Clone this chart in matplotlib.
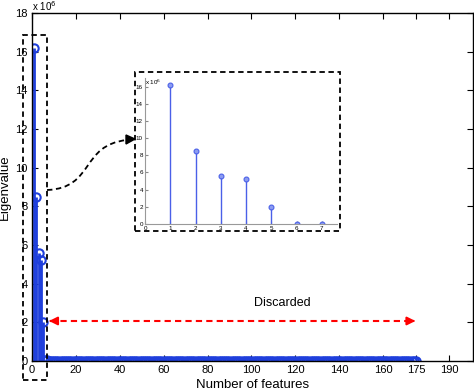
import matplotlib
matplotlib.use("Agg")
import matplotlib.pyplot as plt
from matplotlib.patches import Rectangle, Polygon
from matplotlib.path import Path
from matplotlib.patches import PathPatch

plt.rcParams['font.family'] = ['Liberation Sans', 'DejaVu Sans']

# Data (eigenvalues in units of 1e6)
top_features = [1, 2, 3, 4, 5, 6, 7]
top_values = [16.2, 8.5, 5.6, 5.2, 2.0, 0.05, 0.05]
rest_features = list(range(8, 176))
rest_values = [0.0] * len(rest_features)
features = top_features + rest_features
eigenvalues = top_values + rest_values

xticks_main = [0, 20, 40, 60, 80, 100, 120, 140, 160, 175, 190]
yticks_main = [0, 2, 4, 6, 8, 10, 12, 14, 16, 18]
xticks_inset = [0, 1, 2, 3, 4, 5, 6, 7]
yticks_inset = [0, 2, 4, 6, 8, 10, 12, 14, 16]

W, H = 474, 392
fig = plt.figure(figsize=(W / 100, H / 100), dpi=100)

def fx(x):
    return x / W

def fy(y):
    return 1 - y / H

blue = '#1f3fdc'
ax = fig.add_axes([fx(32), fy(361), fx(474) - fx(32) - 0.002, fy(13) - fy(361)])
ml, sl, bl = ax.stem(features, eigenvalues, basefmt=' ')
plt.setp(sl, color=blue, linewidth=2.0)
plt.setp(ml, color=blue, marker='o', markerfacecolor='none', markersize=6, markeredgewidth=1.5)
ax.set_xlim(0, 201)
ax.set_ylim(0, 18)
ax.set_xticks(xticks_main)
ax.set_yticks(yticks_main)
ax.tick_params(direction='in', top=True, right=True, labelsize=8, length=4, pad=3)
ax.set_xlabel('Number of features', fontsize=9.5, labelpad=3)
ax.set_ylabel('Eigenvalue', fontsize=9.5, labelpad=3)
ax.text(0.0, 1.0, r'x 10$^6$', transform=ax.transAxes, fontsize=7, ha='left', va='bottom')
for s in ax.spines.values():
    s.set_linewidth(1.0)

# Discarded arrow
ax.plot([8, 174], [2.07, 2.07], color='red', ls=(0, (3, 2)), lw=1.5)
ax.annotate('', xy=(6.5, 2.07), xytext=(10, 2.07),
            arrowprops=dict(arrowstyle='-|>', color='red', lw=1.5, mutation_scale=12))
ax.annotate('', xy=(176, 2.07), xytext=(172, 2.07),
            arrowprops=dict(arrowstyle='-|>', color='red', lw=1.5, mutation_scale=12))
ax.text(114, 3.0, 'Discarded', fontsize=9, ha='center', va='center')

# Inset
ins = fig.add_axes([fx(145), fy(224), fx(337) - fx(145), fy(78) - fy(224)])
ml2, sl2, bl2 = ins.stem(top_features, top_values, basefmt=' ')
plt.setp(sl2, color='#4a60e8', linewidth=1.0)
plt.setp(ml2, color='#4a60e8', marker='o', markerfacecolor='#8c9cf0', markersize=3.5, markeredgewidth=0.8)
ins.set_xlim(0, 7.6)
ins.set_ylim(0, 17)
ins.set_xticks(xticks_inset)
ins.set_yticks(yticks_inset)
ins.tick_params(labelsize=4.5, length=2, pad=1.5, color='#888888', direction='in')
for k in ['top', 'right']:
    ins.spines[k].set_visible(False)
ins.spines['left'].set_color('#999999')
ins.spines['bottom'].set_color('#999999')
ins.spines['left'].set_linewidth(0.8)
ins.spines['bottom'].set_linewidth(0.8)
ins.text(0.0, 1.0, r'x 10$^6$', transform=ins.transAxes, fontsize=4.5, ha='left', va='top')

# Dashed rectangles
dash = dict(fill=False, edgecolor='black', linestyle=(0, (3, 2)), linewidth=1.3,
            transform=fig.transFigure, clip_on=False)
fig.add_artist(Rectangle((fx(135), fy(231)), fx(340) - fx(135), fy(72) - fy(231), **dash))
fig.add_artist(Rectangle((fx(23), fy(380)), fx(47) - fx(23), fy(35) - fy(380), **dash))

# Curved dashed connector
verts = [(fx(47), fy(190)), (fx(95), fy(188)), (fx(80), fy(145)), (fx(127), fy(140))]
codes = [Path.MOVETO, Path.CURVE4, Path.CURVE4, Path.CURVE4]
fig.add_artist(PathPatch(Path(verts, codes), fill=False, edgecolor='black',
                         linestyle=(0, (3, 2)), linewidth=1.3, transform=fig.transFigure))
fig.add_artist(Polygon([(fx(126), fy(135)), (fx(135), fy(139)), (fx(126), fy(144))],
                       closed=True, facecolor='black', edgecolor='black',
                       transform=fig.transFigure))

fig.savefig('out.png', dpi=100)
